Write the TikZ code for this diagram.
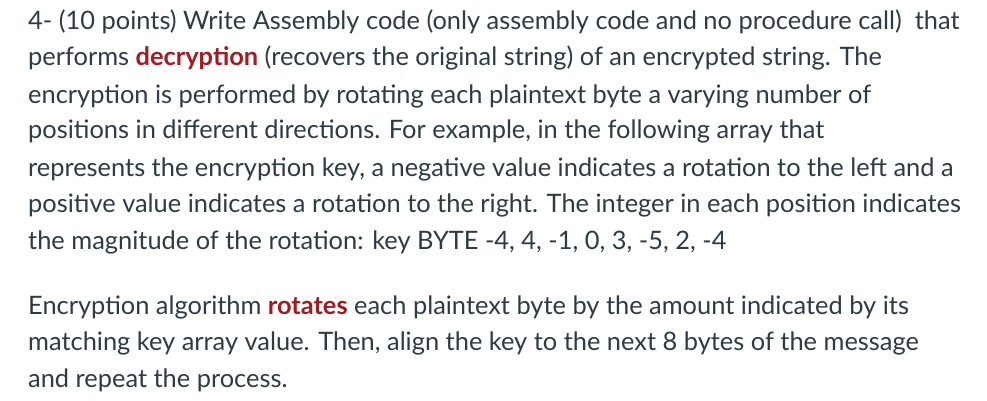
\documentclass[tikz,border=0pt]{standalone}
\usepackage{fontspec}
\setmainfont{Lato}
\definecolor{txt}{HTML}{2D3B45}
\definecolor{hl}{HTML}{9E1C22}
\begin{document}
\begin{tikzpicture}[x=1pt,y=-1pt,
  ln/.style={anchor=base west,inner sep=0pt,text=txt,font=\fontsize{25.4}{30}\selectfont}]
\useasboundingbox (0,0) rectangle (987,401);
\node[ln] (l1) at (28,30) {4- (10 points) Write Assembly code (only assembly code and no procedure call)\ \ that};
\node[ln] (l2) at (28,66) {performs \textcolor{hl}{\textbf{decryption}} (recovers the original string) of an encrypted string. The};
\node[ln] (l3) at (28,103) {encryption is performed by rotating each plaintext byte a varying number of};
\node[ln] (l4) at (28,139) {positions in different directions. For example, in the following array that};
\node[ln] (l5) at (28,176) {represents the encryption key, a negative value indicates a rotation to the left and a};
\node[ln] (l6) at (28,212) {positive value indicates a rotation to the right. The integer in each position indicates};
\node[ln] (l7) at (28,249) {the magnitude of the rotation: key BYTE -4, 4, -1, 0, 3, -5, 2, -4};
\node[ln] (l8) at (28,314) {Encryption algorithm \textcolor{hl}{\textbf{rotates}} each plaintext byte by the amount indicated by its};
\node[ln] (l9) at (28,350) {matching key array value. Then, align the key to the next 8 bytes of the message};
\node[ln] (l10) at (28,387) {and repeat the process.};
\end{tikzpicture}
\end{document}
